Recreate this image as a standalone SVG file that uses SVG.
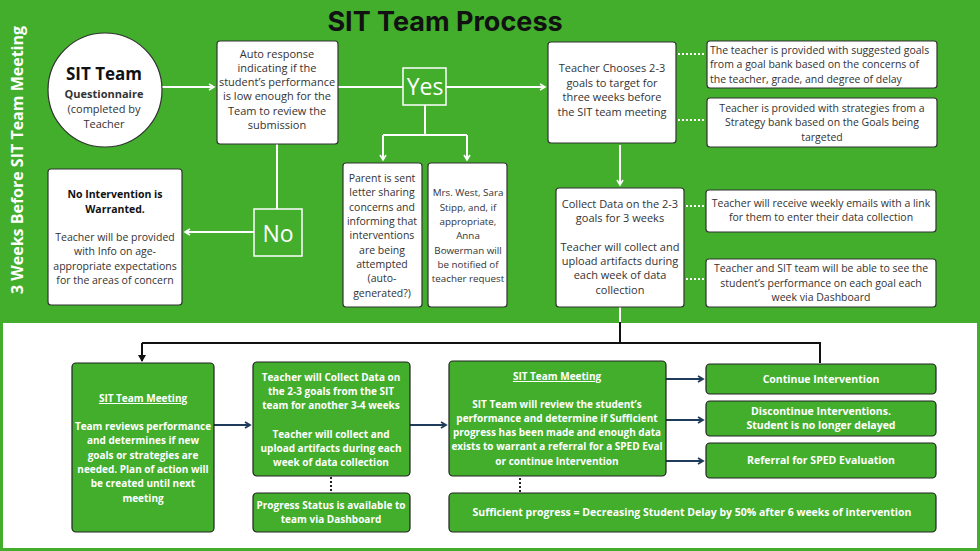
<svg xmlns="http://www.w3.org/2000/svg" width="980" height="551" viewBox="0 0 980 551">
<style>
.wb{fill:#fff;stroke:#333;stroke-width:1.2}
.gb{fill:#42ae2c;stroke:#222;stroke-width:1.2}
.t{font-family:"Open Sans","Liberation Sans",sans-serif;font-size:11px;fill:#333;text-anchor:middle}
.tw{font-family:"Open Sans","Liberation Sans",sans-serif;font-size:10.5px;font-weight:bold;fill:#fff;text-anchor:middle}
.wl{stroke:#fff;stroke-width:2;fill:none}
.nl{stroke:#1f3b5a;stroke-width:2;fill:none}
.dw{stroke:#fff;stroke-width:2;stroke-dasharray:2 2;fill:none}
.dk{stroke:#222;stroke-width:2;stroke-dasharray:2 2;fill:none}
</style>
<defs>
<marker id="aw" markerWidth="8" markerHeight="8" refX="6" refY="4" orient="auto" markerUnits="userSpaceOnUse"><path d="M1,1 L6,4 L1,7" stroke="#fff" stroke-width="1.6" fill="none"/></marker>
<marker id="an" markerWidth="8" markerHeight="8" refX="6" refY="4" orient="auto" markerUnits="userSpaceOnUse"><path d="M1,1 L6,4 L1,7" stroke="#1f3b5a" stroke-width="1.8" fill="none"/></marker>
<marker id="ak" markerWidth="8" markerHeight="8" refX="6" refY="4" orient="auto" markerUnits="userSpaceOnUse"><path d="M0,0 L7,4 L0,8 Z" fill="#111"/></marker>
</defs>
<rect width="980" height="551" fill="#42ae2c"/>
<rect x="3" y="323" width="974" height="225" fill="#fff"/>
<text x="445" y="31" font-family="Inter,'Liberation Sans',sans-serif" font-size="27" font-weight="bold" text-anchor="middle" fill="#111">SIT Team Process</text>
<text transform="translate(23,160) rotate(-90)" font-family="'Open Sans','Liberation Sans',sans-serif" font-size="16" font-weight="bold" text-anchor="middle" fill="#fff">3 Weeks Before SIT Team Meeting</text>

<g id="connectors">
<line class="wl" x1="162" y1="87" x2="214" y2="87" marker-end="url(#aw)"/>
<line class="wl" x1="338" y1="87" x2="403" y2="87"/>
<line class="wl" x1="446" y1="87" x2="545" y2="87" marker-end="url(#aw)"/>
<path class="wl" d="M425,105 V135 M383,135 H467"/>
<line class="wl" x1="383" y1="135" x2="383" y2="160" marker-end="url(#aw)"/>
<line class="wl" x1="467" y1="135" x2="467" y2="160" marker-end="url(#aw)"/>
<line class="wl" x1="277" y1="144" x2="277" y2="209"/>
<line class="wl" x1="254" y1="232" x2="185" y2="232" marker-end="url(#aw)"/>
<line class="wl" x1="620" y1="145" x2="620" y2="185" marker-end="url(#aw)"/>
<path class="dw" d="M678,54 H705 M678,120 H705 M686,206 H705 M686,279 H705"/>
<line class="wl" x1="620" y1="307" x2="620" y2="322"/>
<path d="M620,322 V343 M820,363 V343 H142" stroke="#111" stroke-width="2" fill="none"/>
<line x1="142" y1="343" x2="142" y2="361" stroke="#111" stroke-width="2" marker-end="url(#ak)"/>
<line class="nl" x1="214" y1="425" x2="250" y2="425" marker-end="url(#an)"/>
<line class="nl" x1="410" y1="425" x2="446" y2="425" marker-end="url(#an)"/>
<line class="nl" x1="666" y1="379" x2="703" y2="379" marker-end="url(#an)"/>
<line class="nl" x1="666" y1="420" x2="703" y2="420" marker-end="url(#an)"/>
<line class="nl" x1="666" y1="461" x2="703" y2="461" marker-end="url(#an)"/>
<path class="dk" d="M331,477 V493 M520,478 V493"/>
</g>

<g id="n-questionnaire">
<circle cx="105" cy="90" r="57" fill="#fff" stroke="#333" stroke-width="1.2"/>
<text x="104" y="80" font-family="'Open Sans','Liberation Sans',sans-serif" font-size="17" font-weight="bold" text-anchor="middle" fill="#111">SIT Team</text>
<text x="104" y="98" class="t" font-weight="bold" fill="#111" font-size="10.5">Questionnaire</text>
<text x="104" y="113" class="t">(completed by</text>
<text x="104" y="128" class="t">Teacher</text>
</g>
<g id="n-auto">
<rect class="wb" x="217" y="41" width="121" height="103" rx="3"/>
<text class="t"><tspan x="277" y="58">Auto response</tspan><tspan x="277" y="72">indicating if the</tspan><tspan x="277" y="86">student’s performance</tspan><tspan x="277" y="100">is low enough for the</tspan><tspan x="277" y="115">Team to review the</tspan><tspan x="277" y="129">submission</tspan></text>
</g>
<g id="n-yes">
<rect x="403" y="68" width="43" height="37" fill="none" stroke="#fff" stroke-width="1.5"/>
<text x="425" y="95" font-family="'Open Sans','Liberation Sans',sans-serif" font-size="23" text-anchor="middle" fill="#fff">Yes</text>
</g>
<g id="n-no">
<rect x="254" y="209" width="48" height="47" fill="none" stroke="#fff" stroke-width="1.5"/>
<text x="278" y="242" font-family="'Open Sans','Liberation Sans',sans-serif" font-size="23" text-anchor="middle" fill="#fff">No</text>
</g>
<g id="n-nointervention">
<rect class="wb" x="48" y="169" width="134" height="136" rx="3"/>
<text class="t" style="font-size:10.5px"><tspan x="115" y="198" font-weight="bold" fill="#111">No Intervention is</tspan><tspan x="115" y="213" font-weight="bold" fill="#111">Warranted.</tspan><tspan x="115" y="241">Teacher will be provided</tspan><tspan x="115" y="255">with Info on age-</tspan><tspan x="115" y="270">appropriate expectations</tspan><tspan x="115" y="284">for the areas of concern</tspan></text>
</g>
<g id="n-parent">
<rect class="wb" x="343" y="163" width="79" height="144" rx="3"/>
<text class="t" style="font-size:10.5px"><tspan x="382" y="182">Parent is sent</tspan><tspan x="382" y="196">letter sharing</tspan><tspan x="382" y="211">concerns and</tspan><tspan x="382" y="225">informing that</tspan><tspan x="382" y="239">interventions</tspan><tspan x="382" y="254">are being</tspan><tspan x="382" y="268">attempted</tspan><tspan x="382" y="282">(auto-</tspan><tspan x="382" y="297">generated?)</tspan></text>
</g>
<g id="n-notify">
<rect class="wb" x="428" y="163" width="79" height="144" rx="3"/>
<text class="t" style="font-size:9.8px"><tspan x="468" y="196">Mrs. West, Sara</tspan><tspan x="468" y="211">Stipp, and, if</tspan><tspan x="468" y="225">appropriate,</tspan><tspan x="468" y="239">Anna</tspan><tspan x="468" y="254">Bowerman will</tspan><tspan x="468" y="268">be notified of</tspan><tspan x="468" y="282">teacher request</tspan></text>
</g>
<g id="n-chooses">
<rect class="wb" x="548" y="42" width="128" height="101" rx="3"/>
<text class="t"><tspan x="612" y="72">Teacher Chooses 2-3</tspan><tspan x="612" y="87">goals to target for</tspan><tspan x="612" y="101">three weeks before</tspan><tspan x="612" y="116">the SIT team meeting</tspan></text>
</g>
<g id="n-goalbank">
<rect class="wb" x="707" y="41" width="230" height="47" rx="3"/>
<text class="t" style="text-anchor:start;font-size:10.5px"><tspan x="710" y="54">The teacher is provided with suggested goals</tspan><tspan x="710" y="68">from a goal bank based on the concerns of</tspan><tspan x="710" y="83">the teacher, grade, and degree of delay</tspan></text>
</g>
<g id="n-strategy">
<rect class="wb" x="707" y="98" width="230" height="49" rx="3"/>
<text class="t" style="font-size:10.5px"><tspan x="822" y="112">Teacher is provided with strategies from a</tspan><tspan x="822" y="126">Strategy  bank based on the Goals being</tspan><tspan x="822" y="141">targeted</tspan></text>
</g>
<g id="n-collect">
<rect class="wb" x="556" y="188" width="128" height="119" rx="3"/>
<text class="t"><tspan x="620" y="208">Collect Data on the 2-3</tspan><tspan x="620" y="222">goals for 3 weeks</tspan><tspan x="620" y="251">Teacher will collect and</tspan><tspan x="620" y="265">upload artifacts during</tspan><tspan x="620" y="279">each week of data</tspan><tspan x="620" y="294">collection</tspan></text>
</g>
<g id="n-emails">
<rect class="wb" x="706" y="190" width="230" height="42" rx="3"/>
<text class="t" style="font-size:10.5px"><tspan x="821" y="207">Teacher will receive weekly emails with a link</tspan><tspan x="821" y="221">for them to enter their data collection</tspan></text>
</g>
<g id="n-dashboard">
<rect class="wb" x="706" y="259" width="230" height="48" rx="3"/>
<text class="t" style="font-size:10.5px"><tspan x="821" y="272">Teacher and SIT team will be able to see the</tspan><tspan x="821" y="287">student’s performance on each goal each</tspan><tspan x="821" y="301">week via Dashboard</tspan></text>
</g>

<g id="n-meeting1">
<rect class="gb" x="72" y="363" width="142" height="169" rx="4"/>
<text class="tw" style="font-size:10px"><tspan x="143" y="402" text-decoration="underline">SIT Team Meeting</tspan><tspan x="143" y="430">Team reviews performance</tspan><tspan x="143" y="444">and determines if new</tspan><tspan x="143" y="459">goals or strategies are</tspan><tspan x="143" y="473">needed.  Plan of action will</tspan><tspan x="143" y="487">be created until next</tspan><tspan x="143" y="502">meeting</tspan></text>
</g>
<g id="n-collect2">
<rect class="gb" x="253" y="362" width="157" height="114" rx="4"/>
<text class="tw" style="font-size:10px"><tspan x="331" y="381">Teacher will Collect Data on</tspan><tspan x="331" y="395">the 2-3 goals from the SIT</tspan><tspan x="331" y="409">team for another 3-4 weeks</tspan><tspan x="331" y="438">Teacher will collect and</tspan><tspan x="331" y="452">upload artifacts during each</tspan><tspan x="331" y="466">week of data collection</tspan></text>
</g>
<g id="n-progress">
<rect class="gb" x="253" y="493" width="157" height="39" rx="4"/>
<text class="tw" style="font-size:10px"><tspan x="331" y="509">Progress Status is available to</tspan><tspan x="331" y="523">team via Dashboard</tspan></text>
</g>
<g id="n-meeting2">
<rect class="gb" x="449" y="361" width="217" height="115" rx="4"/>
<text class="tw" style="font-size:10px"><tspan x="557" y="380" text-decoration="underline">SIT Team Meeting</tspan><tspan x="557" y="408">SIT Team will review the student’s</tspan><tspan x="557" y="422">performance and determine if Sufficient</tspan><tspan x="557" y="436">progress  has been made and enough data</tspan><tspan x="557" y="450">exists to warrant a referral for a SPED Eval</tspan><tspan x="557" y="465">or continue Intervention</tspan></text>
</g>
<g id="n-continue">
<rect class="gb" x="706" y="364" width="230" height="30" rx="4"/>
<text class="tw" x="821" y="383">Continue Intervention</text>
</g>
<g id="n-discontinue">
<rect class="gb" x="706" y="401" width="230" height="35" rx="4"/>
<text class="tw"><tspan x="821" y="415">Discontinue Interventions.</tspan><tspan x="821" y="429">Student is no longer delayed</tspan></text>
</g>
<g id="n-referral">
<rect class="gb" x="706" y="443" width="230" height="35" rx="4"/>
<text class="tw" x="821" y="464">Referral for SPED Evaluation</text>
</g>
<g id="n-sufficient">
<rect class="gb" x="449" y="493" width="487" height="39" rx="4"/>
<text class="tw" x="692" y="516">Sufficient progress = Decreasing Student Delay by 50% after 6 weeks of intervention</text>
</g>
</svg>
